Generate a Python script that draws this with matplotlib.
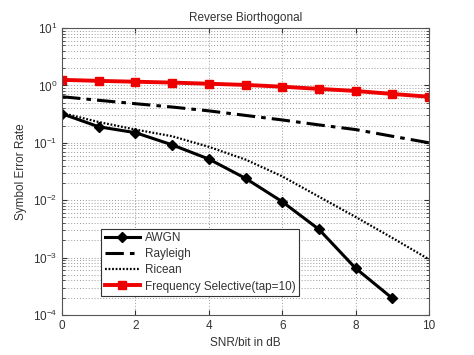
import matplotlib
matplotlib.use("Agg")
import matplotlib.pyplot as plt
from matplotlib.ticker import LogLocator, NullFormatter

plt.rcParams['font.family'] = ['Liberation Sans', 'DejaVu Sans']
plt.rcParams['font.size'] = 8.5

snr = [0, 1, 2, 3, 4, 5, 6, 7, 8, 9, 10]
awgn_snr = [0, 1, 2, 3, 4, 5, 6, 7, 8, 9]
awgn = [0.32, 0.19, 0.15, 0.092, 0.052, 0.024, 0.0094, 0.0031, 0.00065, 0.000195]
rayleigh = [0.635, 0.55, 0.48, 0.42, 0.36, 0.30, 0.25, 0.205, 0.17, 0.13, 0.1]
ricean = [0.33, 0.23, 0.17, 0.13, 0.085, 0.051, 0.026, 0.0115, 0.0051, 0.0022, 0.00093]
freq_sel = [1.25, 1.2, 1.16, 1.12, 1.07, 1.02, 0.95, 0.87, 0.8, 0.71, 0.635]

fig = plt.figure(figsize=(4.74, 3.55), dpi=100)
ax = fig.add_axes([0.131, 0.113, 0.774, 0.808])

ax.semilogy(awgn_snr, awgn, 'k-', marker='D', markersize=5, linewidth=2.2, label='AWGN')
ax.semilogy(snr, rayleigh, color='k', linestyle=(0, (6, 2, 1.5, 2)), linewidth=2.2,
            label='Rayleigh')
ax.semilogy(snr, ricean, color='k', linestyle=(0, (0.8, 0.8)), linewidth=1.6,
            label='Ricean')
ax.semilogy(snr, freq_sel, color='#ee0000', marker='s', markersize=6,
            linewidth=2.8, label='Frequency Selective(tap=10)')

ax.set_xlim(0, 10)
ax.set_ylim(1e-4, 10)
ax.set_xticks([0, 2, 4, 6, 8, 10])
ax.yaxis.set_major_locator(LogLocator(base=10, numticks=10))
ax.yaxis.set_minor_locator(LogLocator(base=10, subs=range(2, 10), numticks=10))
ax.yaxis.set_minor_formatter(NullFormatter())
grid_style = dict(linestyle=(0, (1, 2)), color='#999999', linewidth=0.7)
ax.grid(True, which='major', **grid_style)
ax.grid(True, which='minor', axis='y', **grid_style)
ax.tick_params(which='both', direction='in', top=True, right=True, colors='#333333',
               labelcolor='#333333')
for s in ax.spines.values():
    s.set_color('#555555')

ax.set_title('Reverse Biorthogonal', fontsize=8.5, pad=5, color='#333333')
ax.set_xlabel('SNR/bit in dB', color='#333333')
ax.set_ylabel('Symbol Error Rate', color='#333333')

leg = ax.legend(loc='lower left', bbox_to_anchor=(0.09, 0.045), fancybox=False,
                edgecolor='#333333', framealpha=1, borderpad=0.3, labelspacing=0.35,
                handlelength=3, handletextpad=0.4, fontsize=8.5)
leg.get_frame().set_linewidth(0.8)
for t in leg.get_texts():
    t.set_color('#333333')

fig.savefig('out.png', dpi=100)
